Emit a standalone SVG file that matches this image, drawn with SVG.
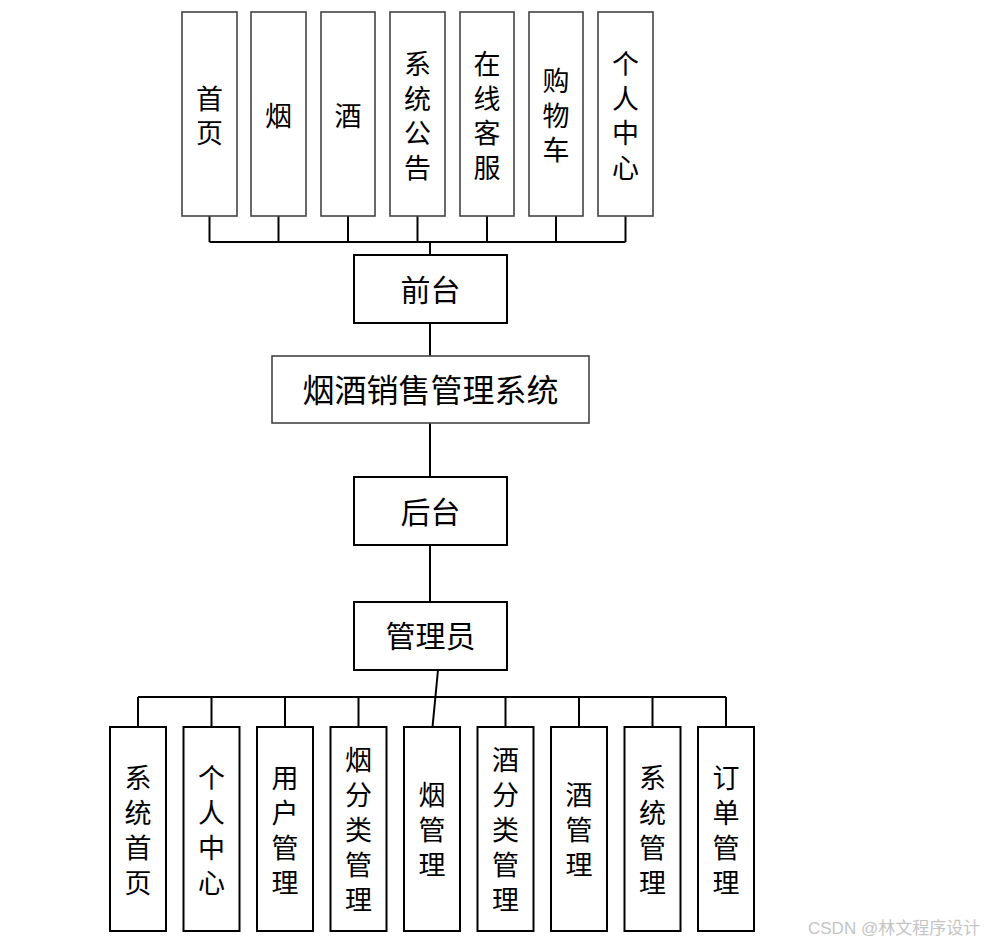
<svg xmlns="http://www.w3.org/2000/svg" width="995" height="945" viewBox="0 0 995 945">
<style>
.bx{fill:#fff;stroke:#000;stroke-width:2}
.bg{fill:#fff;stroke:#444;stroke-width:1.6}
.t{font-family:"Noto Sans CJK SC","Liberation Sans",sans-serif;font-size:27px;fill:#000;text-anchor:middle;dominant-baseline:central}
.tm{font-family:"Noto Sans CJK SC","Liberation Sans",sans-serif;font-size:30px;fill:#000;text-anchor:middle;dominant-baseline:central}
.ln{fill:none;stroke:#000;stroke-width:2}
.wm{font-family:"Liberation Sans","Noto Sans CJK SC",sans-serif;font-size:17px;fill:#c4c4c4;dominant-baseline:central}
</style>
<rect width="995" height="945" fill="#fff"/>
<g id="connectors">
<path class="ln" d="M209.5 216V242M278.5 216V242M348 216V242M417.5 216V242M487 216V242M556 216V242M625.5 216V242M209.5 242H625.5M430 242V255"/>
<path class="ln" d="M430 323V356M430 423V477M430 545V602"/>
<path class="ln" d="M438 670L432.5 727M138 697H726M138 697V727M211.5 697V727M285 697V727M358.5 697V727M505.5 697V727M579 697V727M652.5 697V727M726 697V727"/>
</g>
<g id="n_shouye"><rect class="bg" x="182" y="12" width="55" height="204"/><text class="t" x="209.5"><tspan x="209.5" y="96.5">首</tspan><tspan x="209.5" y="131">页</tspan></text></g>
<g id="n_yan"><rect class="bg" x="251" y="12" width="55" height="204"/><text class="t" x="278.5" y="114">烟</text></g>
<g id="n_jiu"><rect class="bg" x="321" y="12" width="54" height="204"/><text class="t" x="348" y="114">酒</text></g>
<g id="n_xtgg"><rect class="bg" x="390" y="12" width="55" height="204"/><text class="t"><tspan x="417.5" y="62">系</tspan><tspan x="417.5" y="96.5">统</tspan><tspan x="417.5" y="131">公</tspan><tspan x="417.5" y="165.5">告</tspan></text></g>
<g id="n_zxkf"><rect class="bg" x="460" y="12" width="54" height="204"/><text class="t"><tspan x="487" y="62">在</tspan><tspan x="487" y="96.5">线</tspan><tspan x="487" y="131">客</tspan><tspan x="487" y="165.5">服</tspan></text></g>
<g id="n_gwc"><rect class="bg" x="529" y="12" width="54" height="204"/><text class="t"><tspan x="556" y="79">购</tspan><tspan x="556" y="113.5">物</tspan><tspan x="556" y="148">车</tspan></text></g>
<g id="n_grzx"><rect class="bg" x="598" y="12" width="55" height="204"/><text class="t"><tspan x="625.5" y="62">个</tspan><tspan x="625.5" y="96.5">人</tspan><tspan x="625.5" y="131">中</tspan><tspan x="625.5" y="165.5">心</tspan></text></g>
<g id="n_qiantai"><rect class="bx" x="354" y="255" width="153" height="68"/><text class="tm" x="430.5" y="288">前台</text></g>
<g id="n_system"><rect class="bg" x="272" y="356" width="317" height="67"/><text class="tm" x="430.5" y="388" style="font-size:32px">烟酒销售管理系统</text></g>
<g id="n_houtai"><rect class="bx" x="354" y="477" width="153" height="68"/><text class="tm" x="430.5" y="510">后台</text></g>
<g id="n_admin"><rect class="bx" x="354" y="602" width="153" height="68"/><text class="tm" x="430.5" y="634">管理员</text></g>
<g id="b_xtsy"><rect class="bx" x="110" y="727" width="56" height="204"/><text class="t"><tspan x="138" y="776">系</tspan><tspan x="138" y="811">统</tspan><tspan x="138" y="846">首</tspan><tspan x="138" y="881">页</tspan></text></g>
<g id="b_grzx"><rect class="bx" x="183.5" y="727" width="56" height="204"/><text class="t"><tspan x="211.5" y="776">个</tspan><tspan x="211.5" y="811">人</tspan><tspan x="211.5" y="846">中</tspan><tspan x="211.5" y="881">心</tspan></text></g>
<g id="b_yhgl"><rect class="bx" x="257" y="727" width="56" height="204"/><text class="t"><tspan x="285" y="776">用</tspan><tspan x="285" y="811">户</tspan><tspan x="285" y="846">管</tspan><tspan x="285" y="881">理</tspan></text></g>
<g id="b_yflgl"><rect class="bx" x="330.5" y="727" width="56" height="204"/><text class="t"><tspan x="358.5" y="758">烟</tspan><tspan x="358.5" y="793">分</tspan><tspan x="358.5" y="828">类</tspan><tspan x="358.5" y="863">管</tspan><tspan x="358.5" y="898">理</tspan></text></g>
<g id="b_ygl"><rect class="bx" x="404" y="727" width="56" height="204"/><text class="t"><tspan x="432" y="793">烟</tspan><tspan x="432" y="828">管</tspan><tspan x="432" y="863">理</tspan></text></g>
<g id="b_jflgl"><rect class="bx" x="477.5" y="727" width="56" height="204"/><text class="t"><tspan x="505.5" y="758">酒</tspan><tspan x="505.5" y="793">分</tspan><tspan x="505.5" y="828">类</tspan><tspan x="505.5" y="863">管</tspan><tspan x="505.5" y="898">理</tspan></text></g>
<g id="b_jgl"><rect class="bx" x="551" y="727" width="56" height="204"/><text class="t"><tspan x="579" y="793">酒</tspan><tspan x="579" y="828">管</tspan><tspan x="579" y="863">理</tspan></text></g>
<g id="b_xtgl"><rect class="bx" x="624.5" y="727" width="56" height="204"/><text class="t"><tspan x="652.5" y="776">系</tspan><tspan x="652.5" y="811">统</tspan><tspan x="652.5" y="846">管</tspan><tspan x="652.5" y="881">理</tspan></text></g>
<g id="b_ddgl"><rect class="bx" x="698" y="727" width="56" height="204"/><text class="t"><tspan x="726" y="776">订</tspan><tspan x="726" y="811">单</tspan><tspan x="726" y="846">管</tspan><tspan x="726" y="881">理</tspan></text></g>
<text class="wm" x="808" y="928">CSDN @林文程序设计</text>
</svg>
